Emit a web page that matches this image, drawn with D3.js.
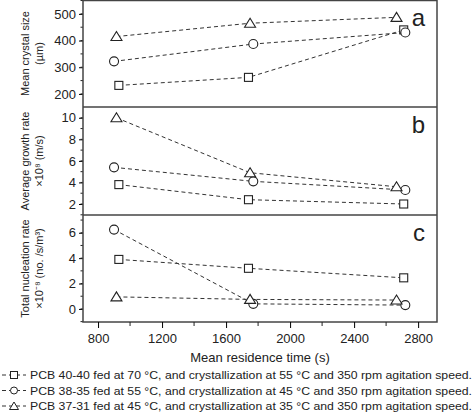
<!DOCTYPE html><html><head><script src="https://cdn.jsdelivr.net/npm/d3@7"></script>
<style>body{margin:0;background:#fff}text{font-family:Arial,"Liberation Sans",sans-serif;fill:#222}</style></head><body><svg id="c" width="474" height="413"></svg><script>
const seriesNames=["PCB 40-40 fed at 70 °C, and crystallization at 55 °C and 350 rpm agitation speed.","PCB 38-35 fed at 55 °C, and crystallization at 45 °C and 350 rpm agitation speed.","PCB 37-31 fed at 45 °C, and crystallization at 35 °C and 350 rpm agitation speed."];
const xSq=[930,1740,2710], xCi=[900,1770,2720], xTr=[915,1750,2665];
const aSq=[232,262,440], aCi=[322,387,430], aTr=[415,465,487];
const bSq=[3.8,2.4,2.0], bCi=[5.4,4.1,3.3], bTr=[10.0,4.9,3.6];
const cSq=[3.9,3.2,2.45], cCi=[6.25,0.4,0.3], cTr=[0.95,0.75,0.7];
const xTicks=[800,1200,1600,2000,2400,2800];
const svg=d3.select("#c"),L=83,R=437;
const x=d3.scaleLinear([706,2918],[L,R]);
const panels=[
 {t:0,b:107,dom:[151,552],ticks:[200,300,400,500],minor:50,lab:["Mean crystal size","(µm)"],letter:"a",d:[aSq,aCi,aTr]},
 {t:107,b:215,dom:[0.98,11.0],ticks:[2,4,6,8,10],minor:1,lab:["Average growth rate","×10⁸ (m/s)"],letter:"b",d:[bSq,bCi,bTr]},
 {t:215,b:322,dom:[-1.03,7.4],ticks:[0,2,4,6],minor:1,lab:["Total nucleation rate","×10⁻⁸ (no. /s/m³)"],letter:"c",d:[cSq,cCi,cTr]}];
const xs=[xSq,xCi,xTr];
function marker(g,k,cx,cy){
 if(k==0)g.append("rect").attr("x",cx-4).attr("y",cy-4).attr("width",8).attr("height",8);
 else if(k==1)g.append("circle").attr("cx",cx).attr("cy",cy).attr("r",4.5);
 else g.append("path").attr("d",`M${cx},${cy-5}L${cx+5.5},${cy+4}L${cx-5.5},${cy+4}Z`);
}
panels.forEach(p=>{
 const y=d3.scaleLinear(p.dom,[p.b,p.t]);
 const g=svg.append("g");
 const ax=g.append("g").attr("transform",`translate(${L},0)`).call(d3.axisLeft(y).tickValues(p.ticks).tickSize(4).tickSizeOuter(0));
 ax.select(".domain").remove();ax.selectAll("text").attr("font-size",13);
 const mn=d3.range(Math.ceil(p.dom[0]/p.minor)*p.minor,p.dom[1],p.minor);
 g.selectAll(".mn").data(mn).enter().append("line").attr("x1",L-2.5).attr("x2",L).attr("y1",d=>y(d)).attr("y2",d=>y(d)).attr("stroke","#222");
 const tx=g.append("text").attr("transform",`translate(${L-52},${(p.t+p.b)/2}) rotate(-90)`).attr("text-anchor","middle").attr("font-size",11);
 tx.append("tspan").attr("x",0).attr("dy",-2).text(p.lab[0]);
 tx.append("tspan").attr("x",0).attr("dy",14).text(p.lab[1]);
 g.append("text").attr("x",R-12).attr("y",p.t+26).attr("text-anchor","end").attr("font-size",24).text(p.letter);
 p.d.forEach((vals,k)=>{
  const pts=vals.map((v,i)=>[x(xs[k][i]),y(v)]);
  g.append("path").attr("d",d3.line()(pts)).attr("fill","none").attr("stroke","#333").attr("stroke-dasharray","4,3");
  const mg=g.append("g").attr("fill","#fff").attr("stroke","#222").attr("stroke-width",1.1);
  pts.forEach(q=>marker(mg,k,q[0],q[1]));
 });
});
svg.append("rect").attr("x",L).attr("y",0.5).attr("width",R-L).attr("height",321.5).attr("fill","none").attr("stroke","#444").attr("stroke-width",1.5);
[107,215].forEach(v=>svg.append("line").attr("x1",L).attr("x2",R).attr("y1",v).attr("y2",v).attr("stroke","#444").attr("stroke-width",1.5));
const xa=svg.append("g").attr("transform","translate(0,322)").call(d3.axisBottom(x).tickValues(xTicks).tickFormat(d3.format("d")).tickSize(6).tickSizeOuter(0));
xa.select(".domain").remove();xa.selectAll("text").attr("font-size",13).attr("dy","0.9em");
svg.selectAll(".xm").data(d3.range(800,2900,200).filter(v=>!xTicks.includes(v))).enter().append("line").attr("x1",d=>x(d)).attr("x2",d=>x(d)).attr("y1",322).attr("y2",326).attr("stroke","#222");
svg.append("text").attr("x",(L+R)/2).attr("y",362).attr("text-anchor","middle").attr("font-size",13).text("Mean residence time (s)");
seriesNames.forEach((n,k)=>{
 const yy=375+k*15.5;
 svg.append("line").attr("x1",2).attr("x2",26).attr("y1",yy).attr("y2",yy).attr("stroke","#333").attr("stroke-dasharray","4,3");
 const mg=svg.append("g").attr("fill","#fff").attr("stroke","#222");
 const cx=14;
 if(k==0)mg.append("rect").attr("x",cx-3.5).attr("y",yy-3.5).attr("width",7).attr("height",7);
 else if(k==1)mg.append("circle").attr("cx",cx).attr("cy",yy).attr("r",3.5);
 else mg.append("path").attr("d",`M${cx},${yy-4}L${cx+4.5},${yy+3.5}L${cx-4.5},${yy+3.5}Z`);
 svg.append("text").attr("x",30).attr("y",yy+4).attr("font-size",11).attr("textLength",442).attr("lengthAdjust","spacingAndGlyphs").text(n);
});
</script></body></html>
